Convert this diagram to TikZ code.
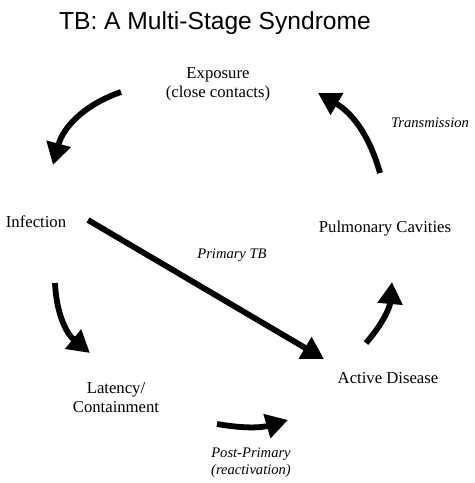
\documentclass[tikz,border=0pt]{standalone}
\usepackage{fontspec}
\setmainfont{Liberation Serif}
\newfontfamily\titlefont{Liberation Sans}
\usetikzlibrary{arrows.meta}

\begin{document}
\begin{tikzpicture}[
        x=0.02cm, y=0.02cm,
        stage/.style={
            inner sep=0pt,
            align=center,
            font=\fontsize{9.5}{10.8}\selectfont
        },
        note/.style={
            inner sep=0pt,
            align=center,
            font=\fontsize{8.3}{9.5}\selectfont\itshape
        },
        flow/.style={
            line width=3.3pt,
            -{Triangle[length=4.4mm,width=4.8mm]}
        }
    ]
    \useasboundingbox (0,0) rectangle (474,483);

    % Title
    \node[inner sep=0pt, font=\titlefont\fontsize{14}{16}\selectfont] (title) at (215,460) {TB: A Multi-Stage Syndrome};

    % Stages
    \node[stage] (exposure) at (218,399) {Exposure\\(close contacts)};
    \node[stage] (infection) at (36,261) {Infection};
    \node[stage] (cavities) at (385,254) {Pulmonary Cavities};
    \node[stage] (latency) at (116,85) {Latency/\\Containment};
    \node[stage] (active) at (388,105) {Active Disease};

    % Labels
    \node[note] (transmission) at (430,360) {Transmission};
    \node[note] (primary) at (232,228) {Primary TB};
    \node[note] (postprimary) at (251,20) {Post-Primary\\(reactivation)};

    % Arrow ends
    \coordinate (e1) at (121,391);
    \coordinate (i1) at (53,318);
    \coordinate (i2) at (55,200);
    \coordinate (l1) at (90,130);
    \coordinate (i3) at (88,263);
    \coordinate (a1) at (324,124);
    \coordinate (l2) at (217,59);
    \coordinate (a2) at (288,63);
    \coordinate (a3) at (366,140);
    \coordinate (c1) at (392,201);
    \coordinate (c2) at (380,310);
    \coordinate (e2) at (318,390);

    % Arrows
    \draw[flow] (e1) to[bend right=28] (i1);
    \draw[flow] (i2) to[bend right=24] (l1);
    \draw[flow] (i3) -- (a1);
    \draw[flow] (l2) to[bend right=13] (a2);
    \draw[flow] (a3) to[bend right=18] (c1);
    \draw[flow] (c2) to[bend right=22] (e2);

\end{tikzpicture}
\end{document}
